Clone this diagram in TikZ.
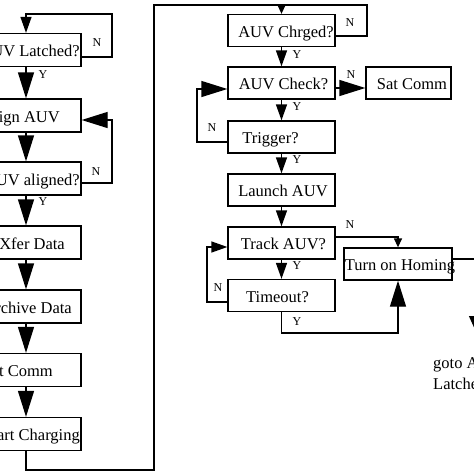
\documentclass[tikz,border=0pt]{standalone}
\usepackage{fontspec}
\setmainfont{Liberation Serif}
\usetikzlibrary{arrows.meta}
\begin{document}
\begin{tikzpicture}[x=1pt,y=-1pt,
  box/.style={draw,line width=1.3pt,rectangle,inner sep=0pt},
  lbox/.style={box,minimum width=110pt,minimum height=33pt},
  rbox/.style={box,minimum width=107pt,minimum height=32pt},
  txt/.style={inner sep=0pt,font=\fontsize{16.5}{19}\selectfont},
  lab/.style={inner sep=0pt,font=\fontsize{12}{14}\selectfont},
  ln/.style={line width=1.3pt},
  big/.style={ln,-{Triangle[length=26pt,width=16pt]}},
  mid/.style={ln,-{Triangle[length=16pt,width=11pt]}},
  tiny/.style={ln,-{Triangle[length=9pt,width=8pt]}},
  edgearr/.style={ln,-{Triangle[length=18pt,width=16pt]}},
]
\useasboundingbox (0,0) rectangle (474,474);
\clip (0,0) rectangle (474,474);

% left column boxes
\node[lbox] (L1) at (26,50) {};
\node[lbox] (L2) at (26,115.5) {};
\node[lbox] (L3) at (26,178.5) {};
\node[lbox] (L4) at (26,242.5) {};
\node[lbox] (L5) at (26,306.5) {};
\node[lbox] (L6) at (26,370) {};
\node[lbox] (L7) at (26,434) {};
% left column texts
\node[txt,anchor=base east] (tL1) at (80,56) {AUV Latched?};
\node[txt,anchor=base east] (tL2) at (60,122) {Align AUV};
\node[txt,anchor=base east] (tL3) at (80,185) {AUV aligned?};
\node[txt,anchor=base east] (tL4) at (65,249) {Xfer Data};
\node[txt,anchor=base east] (tL5) at (72,313) {Archive Data};
\node[txt,anchor=base east] (tL6) at (53,376) {Sat Comm};
\node[txt,anchor=base east] (tL7) at (80,440) {Start Charging};

% right column boxes
\node[rbox] (R1) at (281.5,30.5) {};
\node[rbox] (R2) at (281.5,83) {};
\node[rbox] (R3) at (281.5,137) {};
\node[rbox] (R4) at (281.5,190) {};
\node[rbox] (R5) at (281.5,243) {};
\node[rbox] (R6) at (281.5,295.5) {};
\node[box,minimum width=85pt,minimum height=32pt] (S) at (408.5,83) {};
\node[box,minimum width=108pt,minimum height=32pt] (H) at (398,264) {};
% right texts
\node[txt,anchor=base] (tR1) at (286,37) {AUV Chrged?};
\node[txt,anchor=base] (tR2) at (283.5,89) {AUV Check?};
\node[txt,anchor=base] (tR3) at (270.5,143) {Trigger?};
\node[txt,anchor=base] (tR4) at (283,196) {Launch AUV};
\node[txt,anchor=base] (tR5) at (283.5,249) {Track AUV?};
\node[txt,anchor=base] (tR6) at (277.5,302) {Timeout?};
\node[txt,anchor=base] (tS) at (412,89) {Sat Comm};
\node[txt,anchor=base] (tH) at (400,270) {Turn on Homing};
\node[txt,anchor=base west] (G1) at (433,368) {goto AUV};
\node[txt,anchor=base west] (G2) at (433,389) {Latched};

% left column connectors
\draw[big] (L1.south) -- (L2.north);
\draw[big] (L2.south) -- (L3.north);
\draw[big] (L3.south) -- (L4.north);
\draw[big] (L4.south) -- (L5.north);
\draw[big] (L5.south) -- (L6.north);
\draw[big] (L6.south) -- (L7.north);
\draw[mid] ([yshift=-7pt]L1.east) -- (112,57) -- (112,14) -- (26,14) -- (L1.north);
\draw[big] ([yshift=-4.5pt]L3.east) -- (112,183) -- (112,120) -- ([yshift=-4.5pt]L2.east);

% long connector
\draw[ln] (L7.south) -- (26,470) -- (154,470) -- (154,5) -- (281.5,5);
\draw[tiny] ([yshift=-5.5pt]R1.east) -- (367,36) -- (367,5) -- (281.5,5) -- (R1.north);

% right column connectors
\draw[mid] (R1.south) -- (R2.north);
\draw[mid] (R2.south) -- (R3.north);
\draw[mid] (R3.south) -- (R4.north);
\draw[mid] (R4.south) -- (R5.north);
\draw[mid] (R5.south) -- (R6.north);
\draw[big] ([yshift=-5pt]R2.east) -- ([yshift=-5pt]S.west);
\draw[big] ([yshift=-5pt]R3.west) -- (197,142) -- (197,89) -- ([yshift=-6pt]R2.west);
\draw[tiny] ([yshift=6pt]R5.east) -- (398,237) -- (H.north);
\draw[big] (R6.south) -- (281.5,333) -- (398,333) -- (H.south);
\draw[mid] ([yshift=-6.5pt]R6.west) -- (207,302) -- (207,247) -- ([yshift=-4pt]R5.west);
\draw[ln] ([yshift=5pt]H.east) -- (490,259);
\coordinate (gA) at (477,300);
\coordinate (gB) at (477,334);
\draw[edgearr] (gA) -- (gB);

% labels
\node[lab] (n1) at (97,43) {N};
\node[lab] (y1) at (43,75) {Y};
\node[lab] (n2) at (96,172) {N};
\node[lab] (y2) at (43,202) {Y};
\node[lab] (n3) at (350,23) {N};
\node[lab] (y3) at (297,55) {Y};
\node[lab] (n4) at (351,75) {N};
\node[lab] (y4) at (297,107) {Y};
\node[lab] (n5) at (212,128) {N};
\node[lab] (y5) at (297,160) {Y};
\node[lab] (n6) at (350,225) {N};
\node[lab] (y6) at (297,266) {Y};
\node[lab] (n7) at (218,288) {N};
\node[lab] (y7) at (297,322) {Y};
\end{tikzpicture}
\end{document}
